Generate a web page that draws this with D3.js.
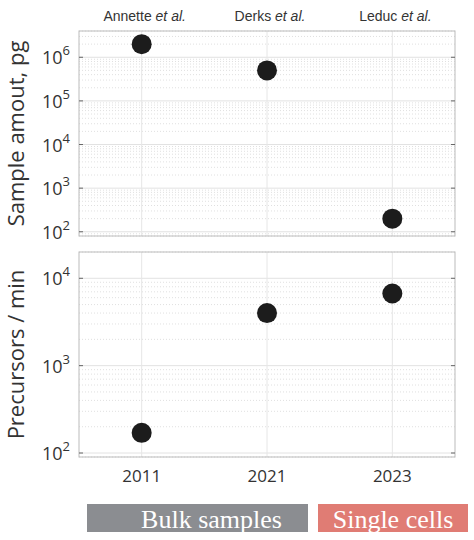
<!DOCTYPE html>
<html><head><meta charset="utf-8">
<script src="https://cdn.jsdelivr.net/npm/d3@7"></script>
<style>body{margin:0;background:#fff}</style>
</head><body><svg id="c" width="474" height="540"></svg>
<script>
// values
var years = ["2011", "2021", "2023"];
var authors = ["Annette", "Derks", "Leduc"];
var sampleAmount = [2e6, 5e5, 200];
var precursors = [170, 4000, 6700];
var groups = [{name: "Bulk samples", from: 0, to: 1}, {name: "Single cells", from: 2, to: 2}];

var svg = d3.select("#c");
var x = d3.scaleLinear().domain([-0.5, 2.5]).range([79, 455]);

function panel(top, bottom, dom, vals, label) {
  var y = d3.scaleLog().domain(dom).range([bottom, top]);
  var g = svg.append("g");
  var lo = Math.floor(Math.log10(dom[0])), hi = Math.ceil(Math.log10(dom[1]));
  var minors = [], majors = [];
  for (var e = lo; e <= hi; e++) for (var m = 1; m < 10; m++) {
    var v = m * Math.pow(10, e);
    if (v < dom[0] || v > dom[1]) continue;
    (m == 1 ? majors : minors).push(v);
  }
  g.selectAll(".mn").data(minors).enter().append("line")
    .attr("x1", 79).attr("x2", 455).attr("y1", d => y(d)).attr("y2", d => y(d))
    .attr("stroke", "#d8d8d8").attr("stroke-dasharray", "1,2").attr("stroke-width", 0.8);
  g.selectAll(".mj").data(majors).enter().append("line")
    .attr("x1", 79).attr("x2", 455).attr("y1", d => y(d)).attr("y2", d => y(d))
    .attr("stroke", "#e2e2e2");
  g.selectAll(".vx").data(years).enter().append("line")
    .attr("x1", (d, i) => x(i)).attr("x2", (d, i) => x(i)).attr("y1", top).attr("y2", bottom)
    .attr("stroke", "#e6e6e6");
  g.append("rect").attr("x", 79).attr("y", top).attr("width", 376).attr("height", bottom - top)
    .attr("fill", "none").attr("stroke", "#bbb");
  g.selectAll(".tk").data(majors).enter().append("line")
    .attr("x1", 79).attr("x2", 83).attr("y1", d => y(d)).attr("y2", d => y(d)).attr("stroke", "#666");
  g.selectAll(".tk2").data(majors).enter().append("line")
    .attr("x1", 451).attr("x2", 455).attr("y1", d => y(d)).attr("y2", d => y(d)).attr("stroke", "#666");
  var tl = g.selectAll(".tl").data(majors).enter().append("text")
    .attr("x", 70).attr("y", d => y(d) + 7).attr("text-anchor", "end")
    .attr("font-family", "Open Sans").attr("font-size", 18).attr("fill", "#333");
  tl.text("10");
  tl.append("tspan").attr("dy", -9).attr("font-size", 13).text(d => Math.round(Math.log10(d)));
  g.selectAll(".pt").data(vals).enter().append("circle")
    .attr("cx", (d, i) => x(i)).attr("cy", d => y(d)).attr("r", 10).attr("fill", "#1c1c1c");
  svg.append("text").attr("transform", "translate(24," + ((top + bottom) / 2) + ") rotate(-90)")
    .attr("text-anchor", "middle").attr("font-family", "Open Sans").attr("font-size", 22)
    .attr("fill", "#333").text(label);
}

panel(31, 236, [80, 4e6], sampleAmount, "Sample amout, pg");
panel(252, 457, [90, 2e4], precursors, "Precursors / min");

var at = svg.selectAll(".au").data(authors).enter().append("text")
  .attr("x", (d, i) => x(i) + 3).attr("y", 21).attr("text-anchor", "middle")
  .attr("font-family", "Liberation Sans").attr("font-size", 14).attr("fill", "#333");
at.text(d => d + " ");
at.append("tspan").attr("font-style", "italic").text("et al.");

svg.selectAll(".yr").data(years).enter().append("text")
  .attr("x", (d, i) => x(i)).attr("y", 482).attr("text-anchor", "middle")
  .attr("font-family", "Open Sans").attr("font-size", 17).attr("fill", "#333").text(d => d);

var gx = [[87, 308, "#8b8d91"], [318, 468, "#e07c74"]];
groups.forEach(function (gr, i) {
  svg.append("rect").attr("x", gx[i][0]).attr("y", 504).attr("width", gx[i][1] - gx[i][0])
    .attr("height", 28).attr("fill", gx[i][2]);
  svg.append("text").attr("x", (gx[i][0] + gx[i][1]) / 2 + (i == 0 ? 14 : 0)).attr("y", 528)
    .attr("text-anchor", "middle").attr("font-family", "Liberation Serif").attr("font-size", 26)
    .attr("fill", "#fff").text(gr.name);
});
</script></body></html>
